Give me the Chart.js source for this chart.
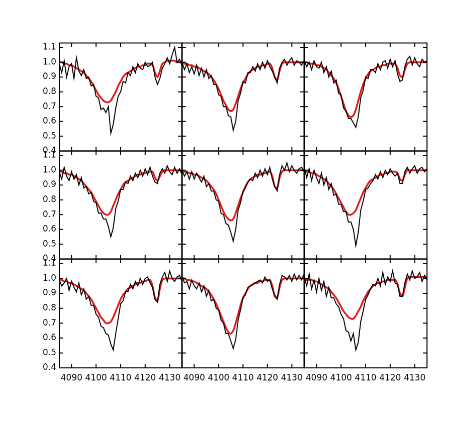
<!DOCTYPE html>
<html>
<head>
<meta charset="utf-8">
<script src="https://cdn.jsdelivr.net/npm/chart.js@4"></script>
<style>
	body { margin: 0; background: #fff; width: 474px; height: 421px; position: relative; overflow: hidden; }
	canvas { position: absolute; }
</style>
</head>
<body>
<script>
// ================ Data ================
const WAVE = [
	4085, 4086, 4087, 4088, 4089, 4090, 4091, 4092, 4093, 4094,
	4095, 4096, 4097, 4098, 4099, 4100, 4101, 4102, 4103, 4104,
	4105, 4106, 4107, 4108, 4109, 4110, 4111, 4112, 4113, 4114,
	4115, 4116, 4117, 4118, 4119, 4120, 4121, 4122, 4123, 4124,
	4125, 4126, 4127, 4128, 4129, 4130, 4131, 4132, 4133, 4134,
	4135,
];
const X_TICKS = [4090, 4100, 4110, 4120, 4130];
const Y_TICKS = [0.4, 0.5, 0.6, 0.7, 0.8, 0.9, 1.0, 1.1];

// observed spectra, panels left->right, top->bottom
const obs1 = [0.99,0.93,1.01,0.90,0.97,0.99,0.89,1.03,0.94,0.91, 0.95,0.89,0.90,0.84,0.85,0.77,0.76,0.68,0.69,0.66, 0.70,0.52,0.58,0.69,0.77,0.80,0.87,0.86,0.93,0.91, 0.97,0.93,0.99,0.96,0.95,1.00,0.97,0.98,1.00,0.90, 0.85,0.89,0.96,0.99,1.03,0.99,1.05,1.10,1.00,1.02, 0.98];
const obs2 = [1.00,0.95,0.99,0.93,0.97,0.92,0.98,0.91,0.96,0.90, 0.95,0.89,0.91,0.85,0.85,0.78,0.77,0.70,0.70,0.64, 0.63,0.54,0.60,0.74,0.79,0.87,0.86,0.93,0.93,0.97, 0.94,0.99,0.95,1.00,0.96,1.01,0.97,0.94,0.90,0.86, 0.96,1.00,1.02,0.98,1.01,1.03,0.98,1.01,1.00,0.98, 1.01];
const obs3 = [1.01,0.97,1.00,0.95,1.01,0.97,0.96,1.00,0.93,0.97, 0.90,0.94,0.86,0.88,0.79,0.78,0.69,0.67,0.62,0.62, 0.59,0.56,0.63,0.76,0.81,0.90,0.89,0.95,0.95,0.93, 0.99,0.95,1.00,1.01,0.96,1.02,0.97,1.01,0.92,0.87, 0.88,0.97,1.02,1.04,0.98,1.03,0.99,0.97,1.02,1.00, 1.01];
const obs4 = [0.99,0.94,1.02,0.96,0.93,0.99,0.94,0.97,0.90,0.95, 0.88,0.89,0.84,0.85,0.79,0.78,0.71,0.71,0.67,0.67, 0.62,0.55,0.61,0.74,0.79,0.87,0.87,0.92,0.91,0.96, 0.93,0.98,0.95,1.00,0.96,1.01,0.97,1.02,0.96,0.92, 0.91,0.98,1.01,0.98,1.03,0.99,0.97,1.02,0.98,1.01, 0.97];
const obs5 = [1.00,0.96,0.99,0.94,0.99,0.94,0.98,0.95,0.92,0.96, 0.89,0.91,0.86,0.86,0.80,0.79,0.71,0.70,0.64,0.63, 0.58,0.52,0.60,0.73,0.78,0.86,0.88,0.92,0.94,0.93, 0.98,0.95,1.00,0.96,1.01,0.97,1.02,0.94,0.89,0.86, 0.97,1.03,1.00,1.05,0.99,1.03,1.00,0.98,1.01,1.02, 0.99];
const obs6 = [1.02,0.95,1.01,0.93,1.00,0.95,0.91,0.98,0.90,0.95, 0.87,0.91,0.83,0.84,0.77,0.77,0.72,0.72,0.65,0.65, 0.60,0.49,0.58,0.73,0.79,0.87,0.88,0.91,0.93,0.97, 0.94,0.99,0.95,1.00,0.97,1.01,0.98,0.96,0.98,0.91, 0.91,0.99,1.02,0.98,1.01,1.03,0.98,1.01,1.02,0.99, 1.01];
const obs7 = [0.99,0.95,0.97,1.00,0.92,0.98,0.94,0.91,0.97,0.89, 0.93,0.86,0.88,0.82,0.82,0.76,0.74,0.68,0.67,0.63, 0.62,0.56,0.52,0.63,0.73,0.83,0.85,0.91,0.91,0.96, 0.93,0.98,0.95,1.00,0.96,1.00,1.01,0.97,0.94,0.86, 0.84,0.96,1.01,1.04,0.98,1.05,1.00,0.98,1.01,1.02, 0.98];
const obs8 = [1.02,0.97,0.98,0.93,0.99,0.95,0.93,0.97,0.91,0.95, 0.88,0.92,0.85,0.86,0.80,0.79,0.72,0.70,0.63,0.63, 0.58,0.53,0.59,0.72,0.79,0.87,0.89,0.94,0.95,0.96, 0.97,0.98,0.99,0.97,1.01,0.98,0.99,0.93,0.89,0.86, 0.96,1.02,1.01,0.99,1.02,0.98,1.03,0.99,1.02,0.99, 1.03];
const obs9 = [1.01,0.95,1.03,0.93,0.99,0.91,1.00,0.92,0.98,0.88, 0.94,0.87,0.87,0.83,0.81,0.76,0.73,0.65,0.64,0.58, 0.63,0.52,0.57,0.71,0.78,0.86,0.89,0.93,0.96,0.95, 1.00,0.95,1.04,0.96,1.01,0.98,1.05,0.97,0.96,0.88, 0.88,0.97,1.03,0.99,1.05,1.00,1.01,1.04,0.98,1.02, 0.99];

// model fits
const fit1 = [1.00,1.00,0.99,0.99,0.98,0.98,0.97,0.96,0.95,0.94, 0.93,0.91,0.89,0.87,0.84,0.81,0.78,0.76,0.74,0.73, 0.73,0.74,0.77,0.80,0.84,0.87,0.90,0.92,0.93,0.94, 0.95,0.96,0.97,0.97,0.98,0.98,0.99,0.99,0.98,0.93, 0.90,0.94,0.99,1.00,1.01,1.01,1.01,1.01,1.00,1.00, 1.00];
const fit2 = [1.00,0.99,0.99,0.98,0.98,0.97,0.97,0.96,0.95,0.94, 0.93,0.92,0.90,0.88,0.85,0.82,0.78,0.74,0.71,0.68, 0.67,0.68,0.72,0.77,0.82,0.86,0.89,0.92,0.94,0.95, 0.96,0.97,0.97,0.98,0.98,0.99,0.99,0.96,0.90,0.88, 0.94,0.99,1.00,1.00,1.00,1.00,1.00,1.00,1.00,1.00, 1.00];
const fit3 = [1.00,1.00,0.99,0.99,0.99,0.98,0.98,0.97,0.96,0.95, 0.93,0.91,0.89,0.86,0.82,0.77,0.72,0.67,0.64,0.63, 0.64,0.68,0.74,0.80,0.85,0.89,0.92,0.94,0.95,0.96, 0.97,0.97,0.98,0.98,0.99,0.99,0.99,0.99,0.96,0.91, 0.90,0.95,0.99,1.00,1.00,1.00,1.00,1.00,1.00,1.00, 1.00];
const fit4 = [0.99,0.99,0.98,0.98,0.97,0.97,0.96,0.95,0.94,0.93, 0.91,0.89,0.87,0.85,0.82,0.79,0.76,0.73,0.71,0.70, 0.70,0.72,0.76,0.80,0.84,0.87,0.90,0.92,0.93,0.94, 0.95,0.96,0.97,0.97,0.98,0.98,0.99,0.99,0.99,0.95, 0.93,0.96,0.99,1.00,1.00,1.00,1.00,1.00,1.00,1.00, 1.00];
const fit5 = [1.00,0.99,0.99,0.98,0.98,0.97,0.97,0.96,0.95,0.94, 0.93,0.91,0.89,0.87,0.84,0.80,0.76,0.72,0.69,0.67, 0.66,0.67,0.71,0.76,0.81,0.85,0.89,0.92,0.94,0.95, 0.96,0.97,0.97,0.98,0.98,0.99,0.99,0.96,0.89,0.88, 0.95,0.99,1.00,1.00,1.00,1.00,1.00,1.00,1.00,1.00, 1.00];
const fit6 = [1.00,0.99,0.99,0.98,0.98,0.97,0.96,0.95,0.94,0.93, 0.91,0.89,0.87,0.84,0.81,0.78,0.75,0.72,0.70,0.70, 0.71,0.73,0.77,0.81,0.85,0.88,0.91,0.93,0.94,0.95, 0.96,0.97,0.97,0.98,0.98,0.99,0.99,0.99,0.98,0.94, 0.93,0.97,1.00,1.00,1.00,1.00,1.00,1.00,1.00,1.00, 1.00];
const fit7 = [0.99,0.99,0.98,0.98,0.97,0.97,0.96,0.95,0.94,0.93, 0.92,0.90,0.88,0.86,0.83,0.80,0.77,0.74,0.72,0.70, 0.70,0.71,0.74,0.78,0.82,0.86,0.89,0.91,0.93,0.94, 0.95,0.96,0.97,0.97,0.98,0.98,0.99,0.99,0.95,0.87, 0.85,0.93,0.99,1.00,1.00,1.00,1.00,1.00,1.00,1.00, 1.00];
const fit8 = [1.00,1.00,0.99,0.99,0.98,0.98,0.97,0.96,0.95,0.94, 0.93,0.91,0.89,0.86,0.83,0.79,0.75,0.71,0.67,0.64, 0.63,0.65,0.70,0.76,0.82,0.87,0.90,0.93,0.95,0.96, 0.97,0.97,0.98,0.98,0.99,0.99,0.99,0.95,0.88,0.87, 0.94,0.99,1.00,1.00,1.00,1.00,1.00,1.00,1.00,1.00, 1.00];
const fit9 = [1.00,0.99,0.99,0.99,0.98,0.98,0.97,0.96,0.95,0.94, 0.93,0.91,0.89,0.87,0.84,0.81,0.78,0.76,0.74,0.73, 0.73,0.75,0.78,0.81,0.85,0.88,0.91,0.93,0.95,0.96, 0.97,0.97,0.98,0.98,0.99,0.99,0.99,0.99,0.96,0.90, 0.88,0.94,1.00,1.01,1.01,1.01,1.01,1.01,1.01,1.01, 1.01];

const OBS = [obs1, obs2, obs3, obs4, obs5, obs6, obs7, obs8, obs9];
const FIT = [fit1, fit2, fit3, fit4, fit5, fit6, fit7, fit8, fit9];

// ================ Layout ================
const LEFT = 59.3, TOP = 43;
const PANEL_W = 122.5, PANEL_H = 108.2;
const PAD_L = 40, PAD_B = 20, PAD_T = 5, PAD_R = 5;

// inward ticks on all four sides + frame
const frameTicks = {
	id: "frameTicks",
	afterDraw(chart) {
		const { ctx, chartArea: a, scales } = chart;
		ctx.save();
		ctx.strokeStyle = "#000";
		ctx.lineWidth = 1;
		ctx.beginPath();
		for (const v of X_TICKS) {
			const px = scales.x.getPixelForValue(v);
			ctx.moveTo(px, a.bottom); ctx.lineTo(px, a.bottom - 4);
			ctx.moveTo(px, a.top); ctx.lineTo(px, a.top + 4);
		}
		for (const v of Y_TICKS) {
			const py = scales.y.getPixelForValue(v);
			ctx.moveTo(a.left, py); ctx.lineTo(a.left + 4, py);
			ctx.moveTo(a.right, py); ctx.lineTo(a.right - 4, py);
		}
		ctx.stroke();
		ctx.strokeRect(a.left, a.top, a.right - a.left, a.bottom - a.top);
		ctx.restore();
	},
};

function toPoints(ys) {
	return ys.map((y, i) => ({ x: WAVE[i], y }));
}

for (let i = 0; i < 9; i++) {
	const row = Math.floor(i / 3), col = i % 3;
	const canvas = document.createElement("canvas");
	const w = PAD_L + PANEL_W + PAD_R, h = PAD_T + PANEL_H + PAD_B;
	canvas.width = w;
	canvas.height = h;
	canvas.style.left = (LEFT + col * PANEL_W - PAD_L) + "px";
	canvas.style.top = (TOP + row * PANEL_H - PAD_T) + "px";
	canvas.style.width = w + "px";
	canvas.style.height = h + "px";
	document.body.appendChild(canvas);

	new Chart(canvas, {
		type: "line",
		data: {
			datasets: [
				{ data: toPoints(OBS[i]), borderColor: "#000", borderWidth: 1, pointRadius: 0, tension: 0 },
				{ data: toPoints(FIT[i]), borderColor: "#e31a1c", borderWidth: 1.8, pointRadius: 0, tension: 0.3 },
			],
		},
		options: {
			responsive: false,
			animation: false,
			devicePixelRatio: 2,
			layout: { padding: { top: PAD_T, right: PAD_R, left: 0, bottom: 0 } },
			plugins: { legend: { display: false }, tooltip: { enabled: false } },
			scales: {
				x: {
					type: "linear", min: 4085, max: 4135,
					grid: { display: false, drawTicks: false },
					border: { display: false },
					afterBuildTicks: (s) => { s.ticks = X_TICKS.map((v) => ({ value: v })); },
					afterFit: (s) => { s.height = PAD_B; s.paddingLeft = 0; s.paddingRight = 0; },
					ticks: {
						display: row === 2, padding: 5, color: "#000", maxRotation: 0, autoSkip: false,
						font: { family: "DejaVu Sans", size: 8.5 },
						callback: (v) => String(v),
					},
				},
				y: {
					min: 0.4, max: 1.13,
					grid: { display: false, drawTicks: false },
					border: { display: false },
					afterBuildTicks: (s) => { s.ticks = Y_TICKS.map((v) => ({ value: v })); },
					afterFit: (s) => { s.width = PAD_L; s.paddingTop = 0; s.paddingBottom = 0; },
					ticks: {
						display: col === 0, padding: 3, color: "#000",
						font: { family: "DejaVu Sans", size: 8.5 },
						callback: (v) => v.toFixed(1),
					},
				},
			},
		},
		plugins: [frameTicks],
	});
}
</script>
</body>
</html>
